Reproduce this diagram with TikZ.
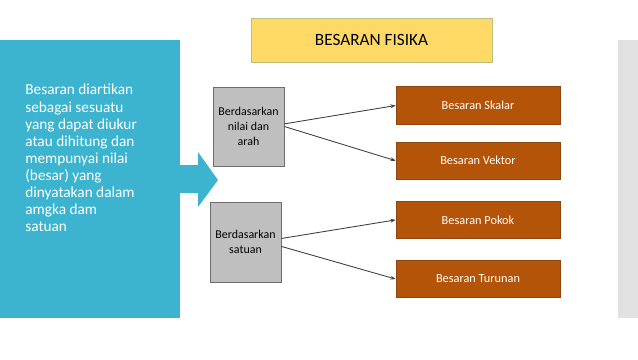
\documentclass[tikz,border=0pt]{standalone}
\usepackage{fontspec}
\setmainfont{Carlito}
\usepackage{tikz}
\usetikzlibrary{arrows.meta,positioning}
\definecolor{panelblue}{RGB}{60,180,208}
\definecolor{titleyellow}{RGB}{255,217,102}
\definecolor{titleedge}{RGB}{185,190,130}
\definecolor{greyfill}{RGB}{191,191,191}
\definecolor{greyedge}{RGB}{110,110,110}
\definecolor{orangefill}{RGB}{180,84,8}
\definecolor{orangeedge}{RGB}{140,70,20}
\definecolor{stripgrey}{RGB}{225,225,225}

\begin{document}
\begin{tikzpicture}[
  x=0.02cm, y=-0.02cm,
  title/.style={draw=titleedge, fill=titleyellow, minimum width=4.82cm, minimum height=0.88cm,
    font=\fontsize{9.8}{11}\selectfont, inner sep=0pt},
  crit/.style={draw=greyedge, fill=greyfill, minimum width=1.42cm, minimum height=#1,
    font=\fontsize{6.8}{8.5}\selectfont, align=center, inner sep=0pt},
  kind/.style={draw=orangeedge, fill=orangefill, minimum width=3.28cm, minimum height=0.75cm,
    font=\fontsize{7}{8}\selectfont, text=white, inner sep=0pt},
  link/.style={-{Stealth[length=3pt, width=2.2pt]}, line width=0.5pt, color=black!75},
  node distance=0.4cm
]
  \useasboundingbox (0,0) rectangle (638,359);

  % left panel and right strip
  \fill[panelblue] (0,40) rectangle (180,318);
  \fill[stripgrey] (618,40) rectangle (638,318);
  \node[anchor=north west, inner sep=0pt, text=white, align=left,
    font=\fontsize{8.7}{9.7}\selectfont] (defn) at (25,84)
    {Besaran diartikan\\sebagai sesuatu\\yang dapat diukur\\atau dihitung dan\\mempunyai nilai\\(besar) yang\\dinyatakan dalam\\amgka dam\\satuan};

  % big arrow
  \fill[panelblue] (178,165) -- (198,165) -- (198,152) -- (218,180)
    -- (198,207) -- (198,193) -- (178,193) -- cycle;

  \node[title] (T) at (371.5,40) {BESARAN FISIKA};

  \node[crit=1.58cm] (G1) at (248.5,126.5) {Berdasarkan\\nilai dan\\arah};
  \node[crit=1.6cm] (G2) at (245.5,242) {Berdasarkan\\satuan};

  \node[kind] (K1) at (478,105.5) {Besaran Skalar};
  \node[kind, below=0.34cm of K1] (K2) {Besaran Vektor};
  \node[kind, below=0.42cm of K2] (K3) {Besaran Pokok};
  \node[kind, below=0.42cm of K3] (K4) {Besaran Turunan};

  \draw[link] ([yshift=1.5pt]G1.east) -- (K1.west);
  \draw[link] ([yshift=0pt]G1.east) -- (K2.west);
  \draw[link] ([yshift=2pt]G2.east) -- (K3.west);
  \draw[link] ([yshift=-2.5pt]G2.east) -- (K4.west);
\end{tikzpicture}
\end{document}
